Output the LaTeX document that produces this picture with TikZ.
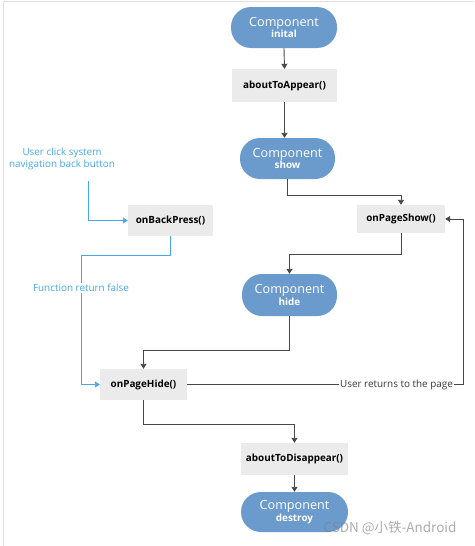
\documentclass[tikz,border=0pt]{standalone}
\usepackage{fontspec}
\setmainfont{Open Sans}
\newfontfamily\cjk{Noto Sans CJK SC}
\usetikzlibrary{arrows.meta}
\definecolor{pillblue}{HTML}{6B9BCD}
\definecolor{boxgray}{HTML}{EBEBEB}
\definecolor{linegray}{HTML}{474747}
\definecolor{lblue}{HTML}{47A7EA}
\tikzset{
  pill/.style={rounded corners=20pt, fill=pillblue, text=white, align=center, inner sep=0pt,
    font=\fontsize{12.6}{13.5}\selectfont},
  fbox/.style={fill=boxgray, inner sep=0pt, font=\bfseries\fontsize{9.9}{11}\selectfont},
  arr/.style={draw=linegray, line width=0.9pt, -{Triangle[width=6pt,length=5pt]}},
  barr/.style={draw=lblue, line width=0.9pt, -{Triangle[width=6pt,length=5pt]}},
  lbl/.style={font=\fontsize{9.9}{12.5}\selectfont, inner xsep=1pt, inner ysep=1pt},
  blbl/.style={lbl, text=lblue, align=center}
}
\begin{document}
\begin{tikzpicture}[x=1pt,y=-1pt]
\useasboundingbox (0,0) rectangle (474,546);
\draw[black!12, line width=0.8pt] (3.5,546) -- (3.5,1) -- (474,1);

\node[pill, minimum width=106pt, minimum height=41pt] (init) at (284,27.5) {Component\\[-2pt]{\bfseries\fontsize{9.9}{11}\selectfont inital}};
\node[fbox, minimum width=105pt, minimum height=33pt] (appear) at (284.5,85.5) {aboutToAppear()};
\node[pill, minimum width=95pt, minimum height=41pt] (show) at (287.5,158.5) {Component\\[-2pt]{\bfseries\fontsize{9.9}{11}\selectfont show}};
\node[fbox, minimum width=85pt, minimum height=31pt] (back) at (170.5,220.5) {onBackPress()};
\node[fbox, minimum width=88pt, minimum height=28pt] (pshow) at (401,219) {onPageShow()};
\node[pill, minimum width=95pt, minimum height=42pt] (hide) at (289.5,295) {Component\\[-2pt]{\bfseries\fontsize{9.9}{11}\selectfont hide}};
\node[fbox, minimum width=87pt, minimum height=31pt] (phide) at (143.5,384.5) {onPageHide()};
\node[fbox, minimum width=107pt, minimum height=32pt] (disappear) at (294.5,459) {aboutToDisappear()};
\node[pill, minimum width=107pt, minimum height=40pt] (destroy) at (294.5,512) {Component\\[-2pt]{\bfseries\fontsize{9.9}{11}\selectfont destroy}};

\draw[arr] (init.south) -- (appear.north);
\draw[arr] (appear.south) -- (appear.south |- show.north);
\draw[arr] (show.south) -- ++(0,16.5) -| (pshow.north);
\draw[arr] (pshow.south) -- ++(0,21) -| (hide.north);
\draw[arr] (hide.south) -- ++(0,34) -| (phide.north);
\draw[arr] (phide.south) -- ++(0,24) -| (disappear.north);
\draw[arr] (disappear.south) -- (destroy.north);

\coordinate (rt) at (463,384.5);
\draw[arr] (phide.east) -- (rt) |- (pshow.east);
\node[lbl, fill=white, text=linegray!80!black] (ret) at (396.5,384.5) {User returns to the page};

\node[blbl] (utext) at (62,159) {User click system\\navigation back button};
\coordinate (bs) at (88,181);
\draw[barr] (bs) |- (back.west);
\coordinate (bl) at (81,255);
\draw[barr] (back.south) |- (bl) |- (phide.west);
\node[blbl, fill=white] (fret) at (81,288) {Function return false};

\node[font=\cjk\fontsize{13.5}{14}\selectfont, text=gray, opacity=0.65, anchor=west] (wm) at (320,528) {CSDN @小铁-Android};
\end{tikzpicture}
\end{document}
